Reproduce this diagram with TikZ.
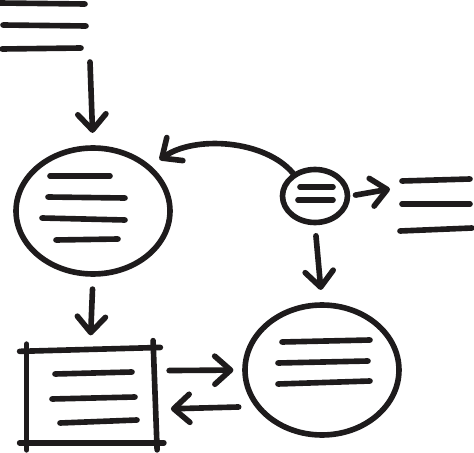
\documentclass[tikz,border=0pt]{standalone}
\usetikzlibrary{shapes.geometric,arrows.meta}
\definecolor{ink}{RGB}{30,27,28}

\begin{document}
\begin{tikzpicture}[%
    x=0.02cm, y=-0.02cm,  % one unit is one pixel of the sketch
    stroke/.style={%
      draw=ink,           % marker colour
      line width=3.2pt,   % thick marker
      line cap=round,     % round ends
      line join=round     %   and corners
    },
    bubble/.style={%
      ellipse,            % oval node
      stroke,             % marker style above
      inner sep=0pt
    },
    card/.style={%
      rectangle,          % box node, edges drawn by hand below
      minimum width=2.52cm,
      minimum height=1.82cm
    },
    edge/.style={%
      stroke,
      shorten <=-4pt,     % overshooting corners
      shorten >=-4pt
    },
    connection/.style={%
      stroke,
      -{Straight Barb[length=9pt,width=16pt,round]}  % open marker head
    }
]
    \useasboundingbox (0,0) rectangle (474,453);

    % nodes
    \node at (93,211)  [bubble, minimum width=3.08cm, minimum height=2.52cm] (big)   {};
    \node at (315,196) [bubble, minimum width=1.3cm,  minimum height=1.06cm] (small) {};
    \node at (322,370) [bubble, minimum width=3.08cm, minimum height=2.6cm]  (round) {};
    \node at (90,397)  [card] (box) {};

    \coordinate (topnote)   at (90,62);
    \coordinate (rightnote) at (390,189);

    % box edges
    \draw[edge] (box.north west) -- ([yshift=2pt]box.north east);
    \draw[edge] ([yshift=2pt]box.north east) -- ([xshift=2pt]box.south east);
    \draw[edge] ([xshift=2pt]box.south east) -- (box.south west);
    \draw[edge] (box.south west) -- (box.north west);

    % scribbled lines
    \foreach \xa/\ya/\xb/\yb in {0/3/85/4, 3/25/86/26, 2/49/81/48}
      \draw[stroke] (\xa,\ya) -- (\xb,\yb);
    \foreach \xa/\ya/\xb/\yb in {50/176/110/176, 48/197/125/198, 42/218/125/220, 56/240/118/239}
      \draw[stroke] (\xa,\ya) -- (\xb,\yb);
    \foreach \xa/\ya/\xb/\yb in {300/187/333/187, 298/200/333/200}
      \draw[stroke] (\xa,\ya) -- (\xb,\yb);
    \foreach \xa/\ya/\xb/\yb in {402/181/470/179, 402/204/470/204, 400/231/472/228}
      \draw[stroke] (\xa,\ya) -- (\xb,\yb);
    \foreach \xa/\ya/\xb/\yb in {282/342/370/340, 278/363/368/361, 278/384/370/381}
      \draw[stroke] (\xa,\ya) -- (\xb,\yb);
    \foreach \xa/\ya/\xb/\yb in {55/374/132/372, 52/399/135/397, 60/423/137/420}
      \draw[stroke] (\xa,\ya) -- (\xb,\yb);

    % connections
    \draw[connection, shorten >=7pt] (topnote) -- (big.north);
    \draw[connection, shorten <=7pt, shorten >=9pt] (big.south) -- (box.north);
    \draw[connection, shorten >=6pt]
    (small.134) .. controls (265,140) and (195,135) .. (big.38);
    \draw[connection, shorten <=3pt] (small.east) -- (rightnote);
    \draw[connection, shorten <=6pt, shorten >=7pt] (small.south) -- (round.north);
    \draw[connection, shorten <=9pt, shorten >=5pt]
    ([yshift=15pt]box.east) -- (round.west);
    \draw[connection, shorten <=2pt, shorten >=10pt]
    ([yshift=-21pt]round.west) -- ([yshift=-7pt]box.east);

\end{tikzpicture}
\end{document}
